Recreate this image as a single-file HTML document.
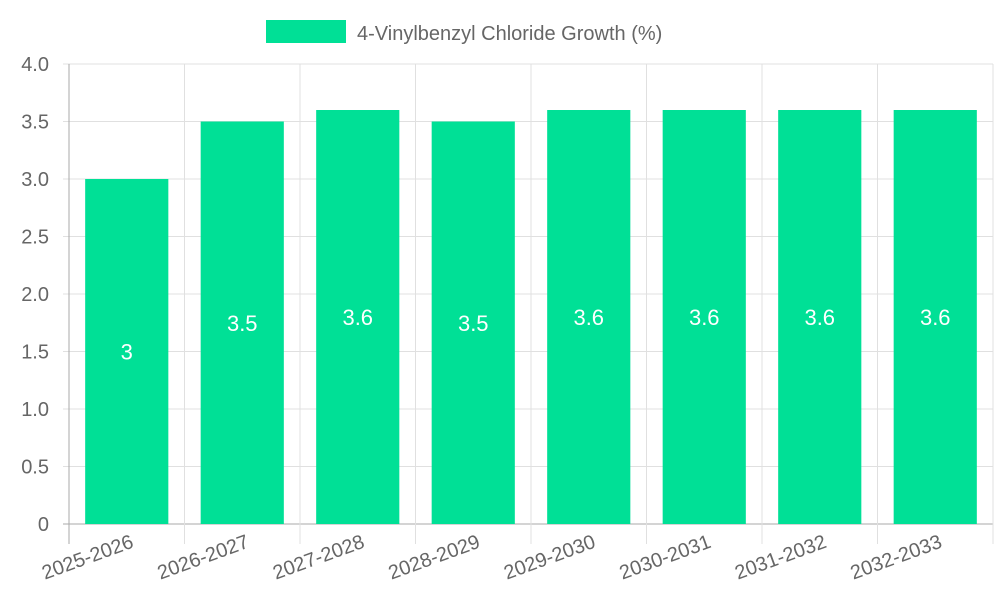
<!DOCTYPE html>
<html><head><meta charset="utf-8"><style>
body{margin:0;background:#fff;width:1000px;height:600px;overflow:hidden;font-family:"Liberation Sans",sans-serif}
</style></head><body>
<svg id="chart" width="1000" height="600" xmlns="http://www.w3.org/2000/svg">
<g>
<rect x="266" y="20" width="80" height="23" fill="#00E096"/>
<text x="357" y="40" font-size="20" fill="#666">4-Vinylbenzyl Chloride Growth (%)</text>
</g>
<g id="grid"></g><g id="bars"></g><g id="labels"></g>
</svg>
<script>
const categories=["2025-2026","2026-2027","2027-2028","2028-2029","2029-2030","2030-2031","2031-2032","2032-2033"];
const values=[3,3.5,3.6,3.5,3.6,3.6,3.6,3.6];
const yTicks=[0,0.5,1.0,1.5,2.0,2.5,3.0,3.5,4.0];
const yTickLabels=["0","0.5","1.0","1.5","2.0","2.5","3.0","3.5","4.0"];
const NS="http://www.w3.org/2000/svg";
const L=69,R=993,T=64,B=524,yMax=4;
const y=v=>B-(v/yMax)*(B-T);
const band=(R-L)/categories.length;
const x=i=>L+i*band;
function mk(tag,attrs,parent,text){const e=document.createElementNS(NS,tag);for(const k in attrs)e.setAttribute(k,attrs[k]);if(text!==undefined)e.textContent=text;parent.appendChild(e);return e;}
const grid=document.getElementById('grid'),bars=document.getElementById('bars'),labels=document.getElementById('labels');
yTicks.forEach((t,i)=>{
 const ln=mk('line',{x1:L-6,x2:R,y1:y(t),y2:y(t),stroke:i===0?'#aaa':'#e0e0e0','stroke-width':1},grid);
 
 
 const tx=mk('text',{x:L-20,y:y(t)+7,'text-anchor':'end','font-size':20,fill:'#666'},grid,yTickLabels[i]);
 
 
});
for(let i=0;i<=categories.length;i++){
 const ln=mk('line',{x1:x(i),x2:x(i),y1:T,y2:B+20,stroke:i===0?'#aaa':'#e0e0e0','stroke-width':1},grid);
 
 
}
categories.forEach((c,i)=>{
 const bw=band*0.72,bx=x(i)+(band-bw)/2;
 const r=mk('rect',{x:bx,y:y(values[i]),width:bw,height:B-y(values[i]),fill:'#00E096'},bars);
 
 
 const v=mk('text',{x:x(i)+band/2,y:(y(values[i])+B)/2+8,'text-anchor':'middle','font-size':22,fill:'#fff'},labels,String(values[i]));
 
 
 const cx=x(i)+band/2+8,cy=B+23;
 const t=mk('text',{x:cx,y:cy,'text-anchor':'end','font-size':20,fill:'#666',transform:`rotate(-20 ${cx} ${cy})`},labels,c);
 
 
});
</script>
</body></html>
